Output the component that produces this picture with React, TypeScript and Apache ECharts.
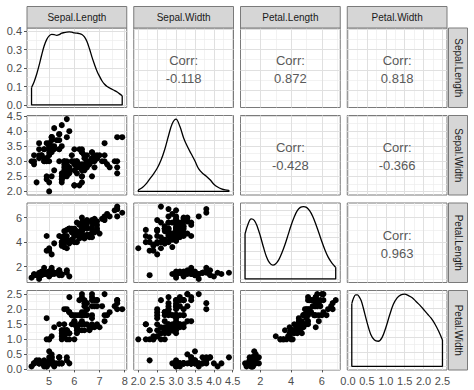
import React, { useEffect, useRef } from "react";
import * as echarts from "echarts";

const VARS = ["Sepal.Length", "Sepal.Width", "Petal.Length", "Petal.Width"];

const sepalLength = [5.1,4.9,4.7,4.6,5.0,5.4,4.6,5.0,4.4,4.9,5.4,4.8,4.8,4.3,5.8,5.7,5.4,5.1,5.7,5.1,5.4,5.1,4.6,5.1,4.8,5.0,5.0,5.2,5.2,4.7,4.8,5.4,5.2,5.5,4.9,5.0,5.5,4.9,4.4,5.1,5.0,4.5,4.4,5.0,5.1,4.8,5.1,4.6,5.3,5.0,
7.0,6.4,6.9,5.5,6.5,5.7,6.3,4.9,6.6,5.2,5.0,5.9,6.0,6.1,5.6,6.7,5.6,5.8,6.2,5.6,5.9,6.1,6.3,6.1,6.4,6.6,6.8,6.7,6.0,5.7,5.5,5.5,5.8,6.0,5.4,6.0,6.7,6.3,5.6,5.5,5.5,6.1,5.8,5.0,5.6,5.7,5.7,6.2,5.1,5.7,
6.3,5.8,7.1,6.3,6.5,7.6,4.9,7.3,6.7,7.2,6.5,6.4,6.8,5.7,5.8,6.4,6.5,7.7,7.7,6.0,6.9,5.6,7.7,6.3,6.7,7.2,6.2,6.1,6.4,7.2,7.4,7.9,6.4,6.3,6.1,7.7,6.3,6.4,6.0,6.9,6.7,6.9,5.8,6.8,6.7,6.7,6.3,6.5,6.2,5.9];

const sepalWidth = [3.5,3.0,3.2,3.1,3.6,3.9,3.4,3.4,2.9,3.1,3.7,3.4,3.0,3.0,4.0,4.4,3.9,3.5,3.8,3.8,3.4,3.7,3.6,3.3,3.4,3.0,3.4,3.5,3.4,3.2,3.1,3.4,4.1,4.2,3.1,3.2,3.5,3.6,3.0,3.4,3.5,2.3,3.2,3.5,3.8,3.0,3.8,3.2,3.7,3.3,
3.2,3.2,3.1,2.3,2.8,2.8,3.3,2.4,2.9,2.7,2.0,3.0,2.2,2.9,2.9,3.1,3.0,2.7,2.2,2.5,3.2,2.8,2.5,2.8,2.9,3.0,2.8,3.0,2.9,2.6,2.4,2.4,2.7,2.7,3.0,3.4,3.1,2.3,3.0,2.5,2.6,3.0,2.6,2.3,2.7,3.0,2.9,2.9,2.5,2.8,
3.3,2.7,3.0,2.9,3.0,3.0,2.5,2.9,2.5,3.6,3.2,2.7,3.0,2.5,2.8,3.2,3.0,3.8,2.6,2.2,3.2,2.8,2.8,2.7,3.3,3.2,2.8,3.0,2.8,3.0,2.8,3.8,2.8,2.8,2.6,3.0,3.4,3.1,3.0,3.1,3.1,3.1,2.7,3.2,3.3,3.0,2.5,3.0,3.4,3.0];

const petalLength = [1.4,1.4,1.3,1.5,1.4,1.7,1.4,1.5,1.4,1.5,1.5,1.6,1.4,1.1,1.2,1.5,1.3,1.4,1.7,1.5,1.7,1.5,1.0,1.7,1.9,1.6,1.6,1.5,1.4,1.6,1.6,1.5,1.5,1.4,1.5,1.2,1.3,1.4,1.3,1.5,1.3,1.3,1.3,1.6,1.9,1.4,1.6,1.4,1.5,1.4,
4.7,4.5,4.9,4.0,4.6,4.5,4.7,3.3,4.6,3.9,3.5,4.2,4.0,4.7,3.6,4.4,4.5,4.1,4.5,3.9,4.8,4.0,4.9,4.7,4.3,4.4,4.8,5.0,4.5,3.5,3.8,3.7,3.9,5.1,4.5,4.5,4.7,4.4,4.1,4.0,4.4,4.6,4.0,3.3,4.2,4.2,4.2,4.3,3.0,4.1,
6.0,5.1,5.9,5.6,5.8,6.6,4.5,6.3,5.8,6.1,5.1,5.3,5.5,5.0,5.1,5.3,5.5,6.7,6.9,5.0,5.7,4.9,6.7,4.9,5.7,6.0,4.8,4.9,5.6,5.8,6.1,6.4,5.6,5.1,5.6,6.1,5.6,5.5,4.8,5.4,5.6,5.1,5.1,5.9,5.7,5.2,5.0,5.2,5.4,5.1];

const petalWidth = [0.2,0.2,0.2,0.2,0.2,0.4,0.3,0.2,0.2,0.1,0.2,0.2,0.1,0.1,0.2,0.4,0.4,0.3,0.3,0.3,0.2,0.4,0.2,0.5,0.2,0.2,0.4,0.2,0.2,0.2,0.2,0.4,0.1,0.2,0.2,0.2,0.2,0.1,0.2,0.2,0.3,0.3,0.2,0.6,0.4,0.3,0.2,0.2,0.2,0.2,
1.4,1.5,1.5,1.3,1.5,1.3,1.6,1.0,1.3,1.4,1.0,1.5,1.0,1.4,1.3,1.4,1.5,1.0,1.5,1.1,1.8,1.3,1.5,1.2,1.3,1.4,1.4,1.7,1.5,1.0,1.1,1.0,1.2,1.6,1.5,1.6,1.5,1.3,1.3,1.3,1.2,1.4,1.2,1.0,1.3,1.2,1.3,1.3,1.1,1.3,
2.5,1.9,2.1,1.8,2.2,2.1,1.7,1.8,1.8,2.5,2.0,1.9,2.1,2.0,2.4,2.3,1.8,2.2,2.3,1.5,2.3,2.0,2.0,1.8,2.1,1.8,1.8,1.8,2.1,1.6,1.9,2.0,2.2,1.5,1.4,2.3,2.4,1.8,1.8,2.1,2.4,2.3,1.9,2.3,2.5,2.3,1.9,2.0,2.3,1.8];

// density curves
const slDensX = [4.3,4.4,4.5,4.6,4.7,4.8,4.9,5.0,5.1,5.2,5.3,5.4,5.5,5.6,5.7,5.8,5.9,6.0,6.1,6.2,6.3,6.4,6.5,6.6,6.7,6.8,6.9,7.0,7.1,7.2,7.3,7.4,7.5,7.6,7.7,7.8,7.9];
const slDensY = [0.095,0.125,0.165,0.215,0.27,0.32,0.355,0.375,0.383,0.382,0.378,0.382,0.39,0.393,0.396,0.397,0.395,0.392,0.39,0.388,0.383,0.37,0.345,0.305,0.26,0.22,0.183,0.155,0.13,0.112,0.1,0.092,0.085,0.078,0.07,0.06,0.05];

const swDensX = [2.0,2.1,2.2,2.3,2.4,2.5,2.6,2.7,2.8,2.9,3.0,3.1,3.2,3.3,3.4,3.5,3.6,3.7,3.8,3.9,4.0,4.1,4.2,4.3,4.4];
const swDensY = [0.021,0.053,0.106,0.18,0.254,0.339,0.456,0.615,0.816,0.996,1.06,0.954,0.784,0.657,0.551,0.445,0.329,0.265,0.223,0.17,0.106,0.064,0.037,0.021,0.016];

const plDensX = [1.0,1.2,1.4,1.6,1.8,2.0,2.2,2.4,2.6,2.8,3.0,3.2,3.4,3.6,3.8,4.0,4.2,4.4,4.6,4.8,5.0,5.2,5.4,5.6,5.8,6.0,6.2,6.4,6.6,6.8,6.9];
const plDensY = [0.164,0.2,0.218,0.213,0.19,0.155,0.115,0.08,0.058,0.05,0.055,0.07,0.095,0.125,0.16,0.195,0.225,0.248,0.26,0.263,0.26,0.248,0.228,0.2,0.168,0.135,0.105,0.08,0.062,0.048,0.042];

const pwDensX = [0.1,0.15,0.2,0.25,0.3,0.35,0.4,0.5,0.6,0.7,0.8,0.9,1.0,1.1,1.2,1.3,1.4,1.5,1.6,1.7,1.8,1.9,2.0,2.1,2.2,2.3,2.4,2.5];
const pwDensY = [0.43,0.47,0.49,0.49,0.475,0.45,0.405,0.305,0.22,0.18,0.172,0.197,0.265,0.35,0.425,0.47,0.49,0.495,0.485,0.47,0.445,0.42,0.39,0.36,0.33,0.29,0.24,0.18];

// axis scales
const varMin = [4.12, 1.88, 0.705, -0.02];
const varMax = [8.08, 4.52, 7.195, 2.62];
const varTicks = [[5, 6, 7, 8], [2, 2.5, 3, 3.5, 4, 4.5], [2, 4, 6], [0, 0.5, 1, 1.5, 2, 2.5]];
const varMinor = [[4.5, 5.5, 6.5, 7.5], [2.25, 2.75, 3.25, 3.75, 4.25], [1, 3, 5, 7], [0.25, 0.75, 1.25, 1.75, 2.25]];
const varDecimals = [0, 1, 0, 1];

const densMin = [-0.014, -0.053, -0.013, -0.025];
const densMax = [0.418, 1.113, 0.276, 0.52];
const densTicks = [[0, 0.1, 0.2, 0.3, 0.4], [0, 0.25, 0.5, 0.75, 1], [0, 0.05, 0.1, 0.15, 0.2, 0.25], [0, 0.1, 0.2, 0.3, 0.4, 0.5]];
const densMinor = [[0.05, 0.15, 0.25, 0.35], [0.125, 0.375, 0.625, 0.875], [0.025, 0.075, 0.125, 0.175, 0.225], [0.05, 0.15, 0.25, 0.35, 0.45]];

const corrPairs = [[0, 1], [0, 2], [0, 3], [1, 2], [1, 3], [2, 3]];
const corrValues = ["-0.118", "0.872", "0.818", "-0.428", "-0.366", "0.963"];

const FONT = "'Liberation Sans', Arial, Helvetica, sans-serif";
const BORDER = "#7a7a7a";
const LEFT0 = 27, TOP0 = 28, PW = 99.75, PH = 79.5, STEPX = 106.75, STEPY = 87.5;

export default function App() {
  const ref = useRef<HTMLDivElement>(null);
  useEffect(() => {
    if (!ref.current) return;
    const chart = echarts.init(ref.current, null, { renderer: "svg" });
    const cols = [sepalLength, sepalWidth, petalLength, petalWidth];
    const densX = [slDensX, swDensX, plDensX, pwDensX];
    const densY = [slDensY, swDensY, plDensY, pwDensY];

    const grids: any[] = [];
    const xAxes: any[] = [];
    const yAxes: any[] = [];
    const series: any[] = [];
    const graphics: any[] = [];

    const gridLine = (idx: number, xMaj: number[], xMin: number[], yMaj: number[], yMin: number[]) => ({
      type: "line",
      xAxisIndex: idx,
      yAxisIndex: idx,
      data: [],
      silent: true,
      z: 1,
      markLine: {
        silent: true,
        z: 1,
        symbol: ["none", "none"],
        label: { show: false },
        lineStyle: { type: "solid" },
        emphasis: { disabled: true },
        data: [
          ...xMin.map((v) => ({ xAxis: v, lineStyle: { color: "#EDEDED", width: 0.7, type: "solid" } })),
          ...yMin.map((v) => ({ yAxis: v, lineStyle: { color: "#EDEDED", width: 0.7, type: "solid" } })),
          ...xMaj.map((v) => ({ xAxis: v, lineStyle: { color: "#E0E0E0", width: 1, type: "solid" } })),
          ...yMaj.map((v) => ({ yAxis: v, lineStyle: { color: "#E0E0E0", width: 1, type: "solid" } })),
        ],
      },
    });

    for (let r = 0; r < 4; r++) {
      for (let c = 0; c < 4; c++) {
        const idx = r * 4 + c;
        const left = LEFT0 + c * STEPX;
        const top = TOP0 + r * STEPY;
        grids.push({
          left, top, width: PW, height: PH, show: true,
          backgroundColor: "#fff", borderColor: BORDER, borderWidth: 1, containLabel: false,
        });
        xAxes.push({
          gridIndex: idx, type: "value", min: varMin[c], max: varMax[c],
          axisLine: { show: false }, splitLine: { show: false },
          axisTick: { show: r === 3, customValues: varTicks[c], length: 3, lineStyle: { color: "#555" } },
          axisLabel: {
            show: r === 3, customValues: varTicks[c], margin: 5,
            formatter: (v: number) => v.toFixed(varDecimals[c]),
            color: "#4D4D4D", fontSize: 11, fontFamily: FONT,
          },
        });
        const diag = r === c;
        const yMin = diag ? densMin[r] : varMin[r];
        const yMax = diag ? densMax[r] : varMax[r];
        const yTicks = diag ? densTicks[r] : varTicks[r];
        const yMinorT = diag ? densMinor[r] : varMinor[r];
        const showY = c === 0;
        yAxes.push({
          gridIndex: idx, type: "value", min: yMin, max: yMax,
          axisLine: { show: false }, splitLine: { show: false },
          axisTick: { show: showY, customValues: yTicks, length: 3, lineStyle: { color: "#555" } },
          axisLabel: {
            show: showY, customValues: yTicks, margin: 5,
            formatter: (v: number) => (diag ? v.toFixed(1) : v.toFixed(varDecimals[r])),
            color: "#4D4D4D", fontSize: 11, fontFamily: FONT,
          },
        });
        series.push(gridLine(idx, varTicks[c], varMinor[c], yTicks, yMinorT));

        if (diag) {
          const xs = densX[r], ys = densY[r];
          series.push({
            type: "line", xAxisIndex: idx, yAxisIndex: idx, z: 5, silent: true,
            showSymbol: false, symbol: "none", smooth: 0.35,
            lineStyle: { color: "#000", width: 1.3 },
            data: xs.map((x, i) => [x, ys[i]]),
          });
          const n = xs.length - 1;
          series.push({
            type: "line", xAxisIndex: idx, yAxisIndex: idx, z: 5, silent: true,
            showSymbol: false, symbol: "none",
            lineStyle: { color: "#000", width: 1.3 },
            data: [[xs[n], ys[n]], [xs[n], 0], [xs[0], 0], [xs[0], ys[0]]],
          });
        } else if (r > c) {
          series.push({
            type: "scatter", xAxisIndex: idx, yAxisIndex: idx, z: 5, silent: true,
            symbolSize: 6, itemStyle: { color: "#000", opacity: 1 },
            data: cols[c].map((x, i) => [x, cols[r][i]]),
          });
        }
      }
    }

    corrPairs.forEach(([r, c], k) => {
      graphics.push({
        type: "text",
        x: LEFT0 + c * STEPX + PW / 2,
        y: TOP0 + r * STEPY + PH / 2 + 1.5,
        style: {
          text: "Corr:\n" + corrValues[k],
          align: "center", verticalAlign: "middle",
          fontSize: 13, lineHeight: 18, fill: "#595959", fontFamily: FONT,
        },
        z: 10,
      });
    });

    for (let c = 0; c < 4; c++) {
      const left = LEFT0 + c * STEPX;
      graphics.push({
        type: "rect",
        shape: { x: left, y: 6.5, width: PW, height: 21.5 },
        style: { fill: "#D6D6D6", stroke: BORDER, lineWidth: 1 },
        z: 5,
      });
      graphics.push({
        type: "text",
        x: left + PW / 2, y: 17.5,
        style: { text: VARS[c], align: "center", verticalAlign: "middle", fontSize: 10, fill: "#1A1A1A", fontFamily: FONT },
        z: 6,
      });
    }
    for (let r = 0; r < 4; r++) {
      const top = TOP0 + r * STEPY;
      graphics.push({
        type: "rect",
        shape: { x: 448.5, y: top, width: 19, height: PH },
        style: { fill: "#D6D6D6", stroke: BORDER, lineWidth: 1 },
        z: 5,
      });
      graphics.push({
        type: "text",
        x: 458, y: top + PH / 2, rotation: -Math.PI / 2,
        style: { text: VARS[r], align: "center", verticalAlign: "middle", fontSize: 10, fill: "#1A1A1A", fontFamily: FONT },
        z: 6,
      });
    }

    chart.setOption({
      animation: false,
      backgroundColor: "#fff",
      grid: grids,
      xAxis: xAxes,
      yAxis: yAxes,
      series,
      graphic: graphics,
    });
    return () => chart.dispose();
  }, []);
  return <div ref={ref} style={{ position: "fixed", left: 0, top: 0, width: 474, height: 390, background: "#fff" }} />;
}
